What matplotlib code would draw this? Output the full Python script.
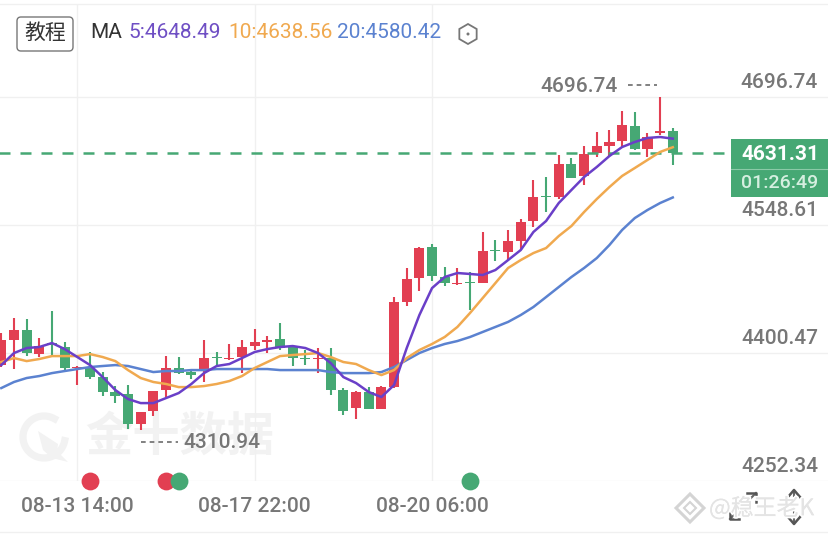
import matplotlib
matplotlib.use('Agg')
import matplotlib.pyplot as plt
import matplotlib.patches as mpatches
import matplotlib.patheffects as pe
from matplotlib.transforms import Affine2D, blended_transform_factory
import numpy as np

# candles, red = up, green = down
opens = [4386.5, 4415.5, 4427.0, 4399.2, 4412.0, 4407.4, 4383.1, 4384.2, 4372.6, 4355.3,
         4353.0, 4318.3, 4333.3, 4357.6, 4383.1, 4378.4, 4379.6, 4395.8, 4393.5, 4395.8,
         4408.5, 4413.2, 4416.6, 4408.5, 4394.6, 4393.5, 4394.6, 4357.6, 4336.7, 4355.3,
         4335.6, 4361.0, 4459.5, 4487.2, 4523.1, 4488.4, 4480.2, 4482.6, 4481.4, 4519.6,
         4517.3, 4530.0, 4553.2, 4582.1, 4581.0, 4619.2, 4605.3, 4631.9, 4640.0, 4645.8,
         4663.1, 4636.5, 4655.0, 4657.4]
closes = [4415.5, 4427.0, 4400.4, 4408.5, 4409.7, 4383.1, 4384.2, 4372.6, 4355.3, 4350.6,
          4318.3, 4332.1, 4356.4, 4383.1, 4377.2, 4374.9, 4394.6, 4394.6, 4394.6, 4407.4,
          4413.2, 4415.5, 4406.2, 4394.6, 4393.5, 4394.6, 4357.6, 4333.3, 4355.3, 4335.6,
          4361.0, 4459.5, 4486.1, 4521.9, 4489.5, 4481.4, 4481.4, 4481.4, 4518.4, 4518.4,
          4530.0, 4552.0, 4581.0, 4581.0, 4619.2, 4603.0, 4630.7, 4640.0, 4644.6, 4664.3,
          4636.5, 4650.4, 4657.4, 4631.31]
highs = [4423.6, 4440.9, 4439.8, 4417.8, 4449.0, 4413.2, 4385.4, 4401.6, 4378.4, 4362.2,
         4363.4, 4332.1, 4356.4, 4396.9, 4395.8, 4381.9, 4415.5, 4401.6, 4410.9, 4415.5,
         4428.2, 4420.1, 4435.2, 4408.5, 4403.9, 4406.2, 4406.2, 4359.9, 4356.4, 4361.0,
         4362.2, 4465.2, 4498.8, 4523.1, 4526.6, 4500.0, 4498.8, 4494.2, 4540.5, 4531.2,
         4542.8, 4555.5, 4600.6, 4604.1, 4629.6, 4626.1, 4640.0, 4656.2, 4658.5, 4680.5,
         4679.3, 4655.0, 4696.74, 4660.9]
lows = [4384.2, 4381.9, 4396.9, 4395.8, 4398.1, 4380.7, 4363.4, 4370.3, 4350.6, 4342.5,
        4312.5, 4310.94, 4327.5, 4349.5, 4376.1, 4370.3, 4366.9, 4385.4, 4392.3, 4377.2,
        4403.9, 4400.4, 4403.9, 4385.4, 4386.5, 4377.2, 4351.8, 4328.7, 4324.0, 4335.6,
        4335.6, 4359.9, 4454.9, 4472.2, 4483.7, 4477.9, 4479.1, 4450.2, 4481.4, 4506.8,
        4508.0, 4519.6, 4546.3, 4563.6, 4578.6, 4603.0, 4594.9, 4627.3, 4627.3, 4638.8,
        4635.4, 4627.3, 4652.7, 4618.0]

ma5 = [4386.5, 4400.4, 4406.2, 4407.4, 4412.0, 4405.0, 4395.8, 4386.5, 4372.6, 4357.6,
       4347.2, 4342.5, 4342.5, 4348.3, 4354.1, 4364.6, 4377.2, 4385.4, 4387.7, 4394.6,
       4401.6, 4405.0, 4407.4, 4408.5, 4406.2, 4400.4, 4388.8, 4372.6, 4365.7, 4355.3,
       4349.5, 4363.4, 4406.2, 4444.4, 4475.6, 4488.4, 4493.0, 4491.9, 4490.7, 4496.5,
       4508.0, 4519.6, 4540.5, 4553.2, 4574.0, 4589.1, 4604.1, 4615.7, 4628.4, 4638.8,
       4644.6, 4649.3, 4650.4, 4648.49]
ma10 = [4390.0, 4394.6, 4391.1, 4393.5, 4396.9, 4396.9, 4396.9, 4399.2, 4395.8, 4391.1,
        4380.7, 4371.5, 4366.9, 4364.6, 4361.0, 4361.0, 4362.2, 4364.6, 4368.0, 4373.8,
        4383.1, 4390.0, 4396.9, 4398.1, 4399.2, 4400.4, 4395.8, 4390.0, 4387.7, 4380.7,
        4374.9, 4380.7, 4394.6, 4403.9, 4410.9, 4419.0, 4430.6, 4446.8, 4464.1, 4481.4,
        4498.8, 4508.0, 4516.1, 4521.9, 4535.8, 4547.4, 4563.6, 4578.6, 4592.5, 4605.3,
        4614.5, 4623.8, 4633.1, 4638.56]
ma20 = [4359.9, 4366.9, 4371.5, 4373.8, 4377.2, 4379.6, 4381.9, 4384.2, 4385.4, 4386.5,
        4385.4, 4381.9, 4378.4, 4379.6, 4379.6, 4380.7, 4380.7, 4381.9, 4381.9, 4381.9,
        4381.9, 4381.9, 4380.7, 4380.7, 4380.7, 4380.7, 4378.4, 4377.2, 4377.2, 4377.2,
        4378.4, 4384.2, 4392.3, 4400.4, 4406.2, 4410.9, 4414.3, 4419.0, 4424.8, 4430.6,
        4436.4, 4444.4, 4453.7, 4465.2, 4476.8, 4488.4, 4498.8, 4510.3, 4525.4, 4542.8,
        4556.6, 4565.9, 4574.0, 4580.42]

price_ticks = [4696.74, 4548.61, 4400.47, 4252.34]
price_labels = ['4696.74', '4548.61', '4400.47', '4252.34']
time_ticks = [6, 20, 34]
time_labels = ['08-13 14:00', '08-17 22:00', '08-20 06:00']
red_dots = [7, 13]
green_dots = [14, 37]
last_price = 4631.31

RED = '#e23f52'
GREEN = '#46a874'
GRID = '#f0f0f0'
GRAY = '#777777'
MARK = '#f2f2f2'
CJK = 'Noto Sans CJK SC'
FONT = 'Roboto'
SIZE = 15
WEIGHT = 'medium'

fig = plt.figure(figsize=(8.29, 5.34), dpi=100)
ax = fig.add_axes([0, (534 - 481) / 534, 1, 477 / 534])
ax.set_xlim(-0.103, 65.33)
ax.set_ylim(4252.34, 4804.3)
for s in ax.spines.values():
    s.set_visible(False)
ax.tick_params(length=0, labelbottom=False, labelleft=False)
ax.set_xticks(time_ticks)
ax.set_yticks(price_ticks)
ax.grid(color=GRID, lw=1)
ax.set_axisbelow(True)

# pixel coords with origin top left, for the overlay bits
px = Affine2D().scale(1, -1).translate(0, 534)

fig.add_artist(plt.Line2D([0, 829], [4, 4], color=GRID, lw=1, transform=px))
fig.add_artist(plt.Line2D([0, 829], [532, 532], color=GRID, lw=1, transform=px))

# watermark
ax.text(85, 437, '金十数据', transform=px, family=CJK, weight='bold',
        fontsize=34, color=MARK, va='center', ha='left', zorder=0.5)
theta = np.radians(np.linspace(60, 350, 60))
ax.plot(44 + 21 * np.cos(theta), 437 + 21 * np.sin(theta) * -1, transform=px, color=MARK, lw=5.2, zorder=0.5)
ax.add_patch(mpatches.Polygon([[38, 431], [58, 444], [57, 451], [68, 462], [52, 458], [43, 450]],
                              fc=MARK, ec='none', transform=px, zorder=0.5))

x = np.arange(len(opens))
o = np.array(opens)
c = np.array(closes)
colors = [RED if c[i] > o[i] else GREEN for i in x]
ax.vlines(x, lows, highs, colors=colors, lw=1.5, zorder=3)
ax.bar(x, np.abs(c - o), bottom=np.minimum(o, c), width=0.8, color=colors, zorder=3)

# last price dashes, pixel x so the phase lines up
dash_tr = blended_transform_factory(px, ax.transData)
ax.plot([-18, 731], [last_price, last_price], transform=dash_tr, color=GREEN, lw=1.8,
        dashes=(4.4, 4.0), zorder=3.5)

ax.plot(x, ma20, color='#5b82d0', lw=1.8, zorder=4)
ax.plot(x, ma10, color='#f0a94f', lw=1.8, zorder=4.1)
ax.plot(x, ma5, color='#6a3fc8', lw=1.8, zorder=4.2)

ax.scatter(red_dots, [price_ticks[3]] * 2, s=165, color=RED, clip_on=False, zorder=5, linewidths=0)
ax.scatter(green_dots, [price_ticks[3]] * 2, s=165, color=GREEN, clip_on=False, zorder=5.1, linewidths=0)

for lab, y in zip(price_labels, [83, 210, 339, 466]):
    ax.text(818, y, lab, transform=px, family=FONT, fontsize=SIZE, weight=WEIGHT, color=GRAY,
            ha='right', va='center', zorder=6)
for t, lab in zip(time_ticks, time_labels):
    xpix = ax.transData.transform((t, 4400))[0]
    ax.text(xpix, 507, lab, transform=px, family=FONT, fontsize=SIZE, weight=WEIGHT, color=GRAY,
            ha='center', va='center', clip_on=False, zorder=6)

# high / low notes
ax.text(618, 87, '4696.74', transform=px, family=FONT, fontsize=SIZE, weight=WEIGHT, color=GRAY,
        ha='right', va='center', zorder=6)
ax.plot([628, 657], [85, 85], transform=px, color=GRAY, lw=1.3, dashes=(2.6, 2.2), zorder=6)
ax.text(183, 443, '4310.94', transform=px, family=FONT, fontsize=SIZE, weight=WEIGHT, color=GRAY,
        ha='left', va='center', zorder=6)
ax.plot([141, 178], [442, 442], transform=px, color=GRAY, lw=1.3, dashes=(2.6, 2.2), zorder=6)

# last price box
ax.add_patch(mpatches.Rectangle((731, 139), 98, 58, fc=GREEN, ec='none', transform=px, zorder=7, clip_on=False))
ax.plot([731, 829], [169, 169], transform=px, color='#8ccaa8', lw=0.8, zorder=7.1)
ax.text(780, 154, '4631.31', transform=px, family=FONT, fontsize=SIZE, weight='bold', color='white',
        ha='center', va='center', zorder=8)
ax.text(780, 183, '01:26:49', transform=px, family=FONT, fontsize=SIZE - 1, weight=WEIGHT, color='#d5efe0',
        ha='center', va='center', zorder=8)

# header
fig.add_artist(mpatches.FancyBboxPatch((20, 20), 50, 28, boxstyle='round,pad=3,rounding_size=4',
                                       fc='white', ec='#777777', lw=1, transform=px))
fig.text(45, 33, '教程', transform=px, family=CJK, fontsize=15, color='#333333',
         ha='center', va='center')
for xpos, lab, col in [(90, 'MA', '#333333'), (128, '5:4648.49', '#6f4fc4'),
                       (228, '10:4638.56', '#f0a94f'), (337, '20:4580.42', '#5b82d0')]:
    fig.text(xpos, 33, lab, transform=px, family=FONT, fontsize=15, color=col, ha='left', va='center')
fig.add_artist(mpatches.RegularPolygon((468, 34), 6, radius=10, fill=False, ec='#777777', lw=1.3, transform=px))
fig.add_artist(mpatches.Circle((468, 34), 1.5, fc='#777777', ec='none', transform=px))

# corner icons + repost mark
for seg in [[(730, 519), (756, 493)], [(794, 491), (794, 523)]]:
    fig.add_artist(plt.Line2D(*zip(*seg), color='#666666', lw=1.5, transform=px))
for head in [[(730, 510), (730, 519), (739, 519)], [(747, 493), (756, 493), (756, 502)],
             [(788, 497), (794, 490), (800, 497)], [(788, 517), (794, 524), (800, 517)]]:
    fig.add_artist(plt.Line2D(*zip(*head), color='#555555', lw=1.8, transform=px))
fig.add_artist(mpatches.RegularPolygon((690, 508), 4, radius=14, fill=False, ec='#d4d4d4', lw=2.2, transform=px))
fig.add_artist(mpatches.RegularPolygon((690, 508), 4, radius=6, fill=False, ec='#d4d4d4', lw=1.5, transform=px))
fig.text(709, 508, '@稳王老K', transform=px, family=[CJK, 'DejaVu Sans'], fontsize=16.5,
         color='#e4e4e4', ha='left', va='center',
         path_effects=[pe.withStroke(linewidth=2.4, foreground='#ffffff'), pe.Normal()])

fig.savefig('out.png', dpi=100)
